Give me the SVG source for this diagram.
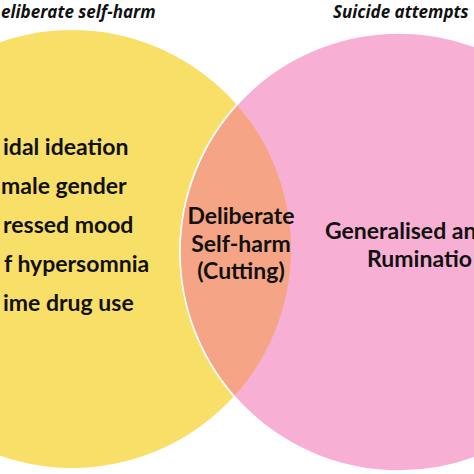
<svg xmlns="http://www.w3.org/2000/svg" width="474" height="474" viewBox="0 0 474 474">
<style>
.t{font-family:Lato,"Open Sans","Liberation Sans",sans-serif;font-weight:bold;fill:#111;font-size:23px}
.h{font-family:"Open Sans","Liberation Sans",sans-serif;font-weight:bold;font-style:italic;fill:#111;font-size:17px}
</style>
<defs>
<clipPath id="cl"><circle cx="72" cy="249" r="219"/></clipPath>
</defs>
<rect width="474" height="474" fill="#fff"/>
<g id="left-set"><circle cx="72" cy="249" r="219" fill="#F8DF68"/></g>
<g id="right-set"><circle cx="399" cy="252" r="219" fill="#F7B0D4" stroke="#fff" stroke-width="1.5"/></g>
<g id="overlap"><circle cx="399" cy="252" r="219" fill="#F5A585" stroke="#fff" stroke-width="1.5" clip-path="url(#cl)"/></g>
<g id="titles">
<text class="h" x="1" y="18">eliberate self-harm</text>
<text class="h" x="333" y="18">Suicide attempts</text>
</g>
<g id="left-items">
<text class="t" x="3" y="155">idal ideation</text>
<text class="t" x="1" y="194">male gender</text>
<text class="t" x="3" y="233">ressed mood</text>
<text class="t" x="4" y="272">f hypersomnia</text>
<text class="t" x="3" y="311">ime drug use</text>
</g>
<g id="overlap-items" text-anchor="middle">
<text class="t" x="241" y="224">Deliberate</text>
<text class="t" x="241" y="252">Self-harm</text>
<text class="t" x="241" y="279">(Cutting)</text>
</g>
<g id="right-items">
<text class="t" x="325" y="239">Generalised an</text>
<text class="t" x="367" y="267">Ruminatio</text>
</g>
<g id="connectors"/>
</svg>
